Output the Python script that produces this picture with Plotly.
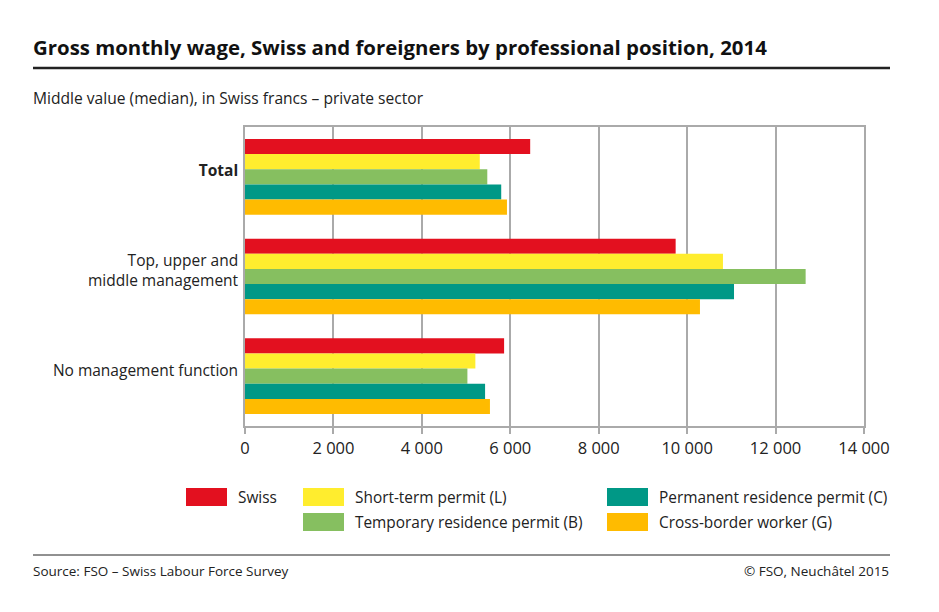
import plotly.graph_objects as go

categories = ["Total", "Top, upper and middle management", "No management function"]
category_labels = ["<b>Total</b>", "Top, upper and<br>middle management", "No management function"]
series_names = ["Swiss", "Short-term permit (L)", "Temporary residence permit (B)",
                "Permanent residence permit (C)", "Cross-border worker (G)"]
swiss = [6450, 9740, 5860]
short_term = [5310, 10810, 5210]
temporary = [5480, 12680, 5030]
permanent = [5795, 11060, 5430]
cross_border = [5925, 10290, 5540]
series_values = [swiss, short_term, temporary, permanent, cross_border]
colors = ["#E3101F", "#FFED2E", "#86BF60", "#009886", "#FFBB00"]
tick_vals = [0, 2000, 4000, 6000, 8000, 10000, 12000, 14000]
tick_text = ["0", "2 000", "4 000", "6 000", "8 000", "10 000", "12 000", "14 000"]

FONT = "Open Sans"
W, H = 939, 612
ML, MR, MT, MB = 245, 75, 127, 186

fig = go.Figure()
for name, vals, col in zip(series_names, series_values, colors):
    fig.add_trace(go.Bar(y=categories, x=vals, name=name, orientation="h",
                         marker=dict(color=col, line=dict(width=0)),
                         hoverinfo="x+name"))

grid = "#AAAAAA"
fig.update_layout(
    width=W, height=H,
    margin=dict(l=ML, r=MR, t=MT, b=MB),
    paper_bgcolor="white", plot_bgcolor="white",
    barmode="group", bargap=0.24, bargroupgap=0,
    showlegend=False,
    font=dict(family=FONT, size=15, color="#222"),
    xaxis=dict(range=[0, 14000], tickvals=tick_vals, ticktext=tick_text,
               showgrid=True, gridcolor=grid, gridwidth=1.5,
               showline=True, linecolor=grid, linewidth=1.5, mirror=True,
               ticks="outside", ticklen=6, tickcolor=grid, tickwidth=1.5,
               tickfont=dict(size=16.5, color="#222"), zeroline=False, fixedrange=True),
    yaxis=dict(autorange="reversed", tickvals=categories, ticktext=category_labels,
               showline=True, linecolor=grid, linewidth=1.5, mirror=True,
               ticks="", ticklabelstandoff=2, ticklabelshift=6,
               tickfont=dict(size=15.5, color="#222"),
               fixedrange=True),
)

# paper coordinates helper (pixel -> paper, plot domain based)
pw = W - ML - MR
ph = H - MT - MB
def px(x):
    return (x - ML) / pw
def py(y):
    return (H - MB - y) / ph

ann = []
def add_text(text, x, y, anchor, size, color="#222"):
    ann.append(dict(text=text, x=px(x), y=py(y), xref="paper", yref="paper",
                    xanchor=anchor, yanchor="middle", showarrow=False,
                    font=dict(size=size, color=color, family=FONT)))

add_text("<b>Gross monthly wage, Swiss and foreigners by professional position, 2014</b>", 31, 47, "left", 20.4, "#111")
add_text("Middle value (median), in Swiss francs – private sector", 31, 98, "left", 15.6)
add_text("Source: FSO – Swiss Labour Force Survey", 31, 571, "left", 13.5)
add_text("© FSO, Neuchâtel 2015", 891, 571, "right", 13.5)

shapes = []
shapes.append(dict(type="line", xref="paper", yref="paper", x0=px(33), x1=px(890), y0=py(68), y1=py(68),
                   line=dict(color="#222", width=2.5)))
shapes.append(dict(type="line", xref="paper", yref="paper", x0=px(33), x1=px(890), y0=py(555), y1=py(555),
                   line=dict(color="#222", width=1)))

# custom legend layout: (swatch left x, row center y)
legend_pos = [(186, 497), (303, 497), (303, 522), (607, 497), (607, 522)]
for name, col, (lx, ly) in zip(series_names, colors, legend_pos):
    shapes.append(dict(type="rect", xref="paper", yref="paper",
                       x0=px(lx), x1=px(lx + 41), y0=py(ly - 9), y1=py(ly + 9),
                       fillcolor=col, line=dict(width=0)))
    add_text(name, lx + 50, ly, "left", 15.4)

fig.update_layout(annotations=ann, shapes=shapes)
fig.write_html("out.html")
